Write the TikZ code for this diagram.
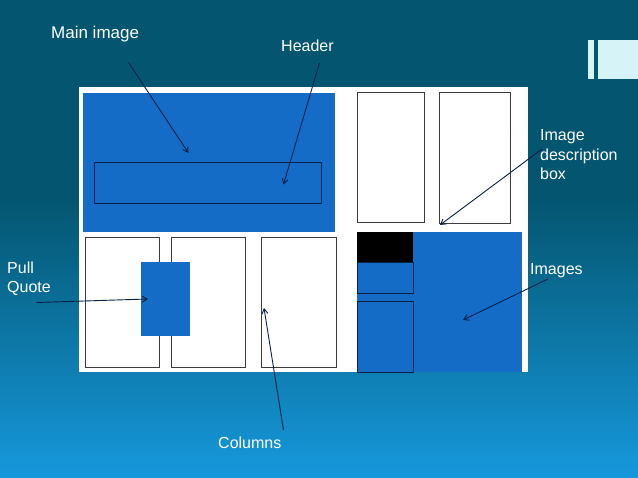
\documentclass[tikz,border=0pt]{standalone}
\usepackage{fontspec}
\setmainfont{Liberation Sans}
\usetikzlibrary{positioning,arrows.meta}
\definecolor{deepteal}{RGB}{4,86,112}
\definecolor{midteal}{RGB}{12,110,150}
\definecolor{skyblue}{RGB}{22,152,220}
\definecolor{layoutblue}{RGB}{20,108,198}
\definecolor{navyline}{RGB}{10,32,70}
\definecolor{paleaqua}{RGB}{214,243,247}
\definecolor{boxgray}{RGB}{60,60,60}

\tikzset{
  sheet/.style={fill=white, anchor=north west, inner sep=0pt, outer sep=0pt},
  colbox/.style={draw=boxgray, line width=0.9pt, fill=white, anchor=north west, inner sep=0pt, outer sep=0pt},
  bluebox/.style={fill=layoutblue, anchor=north west, inner sep=0pt, outer sep=0pt},
  slidetext/.style={text=white, font=\fontsize{16}{19.5}\selectfont, inner sep=0pt, anchor=base west, align=left},
  pointer/.style={-{Straight Barb[length=5pt,width=6pt]}, navyline, line width=0.9pt},
}

\begin{document}
\begin{tikzpicture}[x=1pt, y=-1pt]
  \useasboundingbox (0,0) rectangle (638,478);
  % Background
  \fill[deepteal] (0,0) rectangle (638,478);
  \shade[top color=deepteal, middle color=midteal, bottom color=skyblue] (0,200) rectangle (638,478);
  \fill[paleaqua] (588,40) rectangle (594,79);
  \fill[paleaqua] (598,40) rectangle (638,79);

  % Page
  \node[sheet, minimum width=449pt, minimum height=285pt] (page) at (79,87) {};

  % Left half
  \node[bluebox, minimum width=252pt, minimum height=139pt] (mainimg) at (83,93) {};
  \node[draw=navyline, line width=0.9pt, anchor=north west, inner sep=0pt,
        minimum width=227pt, minimum height=41pt] (header) at (94,162) {};
  \node[colbox, minimum width=74pt, minimum height=130pt] (col1) at (85,237) {};
  \node[colbox, minimum width=74pt, minimum height=130pt] (col2) at (171,237) {};
  \node[colbox, minimum width=75pt, minimum height=130pt] (col3) at (261,237) {};
  \node[bluebox, minimum width=49pt, minimum height=74pt] (pull) at (141,262) {};

  % Right half
  \node[colbox, minimum width=67pt, minimum height=130pt] (pic1) at (357,92) {};
  \node[colbox, minimum width=71pt, minimum height=131pt] (pic2) at (439,92) {};
  \node[bluebox, minimum width=165pt, minimum height=140pt] (images) at (357,232) {};
  \node[fill=black, anchor=north west, inner sep=0pt, minimum width=56pt, minimum height=30pt] (descbox) at (357,232) {};
  \node[bluebox, draw=navyline, line width=0.8pt, minimum width=56pt, minimum height=31pt] (thumb1) at (357,262) {};
  \node[bluebox, draw=navyline, line width=0.8pt, minimum width=56pt, minimum height=71pt] (thumb2) at (357,301) {};

  % Labels (multi-line ones sit on their last baseline)
  \node[slidetext, font=\fontsize{17}{21}\selectfont] (mainlbl) at (51,39) {Main image};
  \node[slidetext] (headerlbl) at (281,52) {Header};
  \node[slidetext] (desclbl) at (540,180) {Image\\description\\box};
  \node[slidetext] (imageslbl) at (530,275) {Images};
  \node[slidetext] (pulllbl) at (7,293) {Pull\\Quote};
  \node[slidetext] (columnslbl) at (218,449) {Columns};

  % Arrows
  \coordinate (maintail) at (128.5,62.5);
  \coordinate (mainhead) at (188.5,153);
  \coordinate (headertail) at (319.5,63);
  \coordinate (headerhead) at (283.5,184.5);
  \coordinate (desctail) at (542,149);
  \coordinate (deschead) at (440,225);
  \coordinate (imagestail) at (548,279);
  \coordinate (imageshead) at (463,320);
  \coordinate (pulltail) at (36.5,302.5);
  \coordinate (pullhead) at (148,299);
  \coordinate (columnstail) at (283.5,430);
  \coordinate (columnshead) at (264,308);
  \draw[pointer] (maintail) -- (mainhead);
  \draw[pointer] (headertail) -- (headerhead);
  \draw[pointer] (desctail) -- (deschead);
  \draw[pointer] (imagestail) -- (imageshead);
  \draw[pointer] (pulltail) -- (pullhead);
  \draw[pointer] (columnstail) -- (columnshead);
\end{tikzpicture}
\end{document}
